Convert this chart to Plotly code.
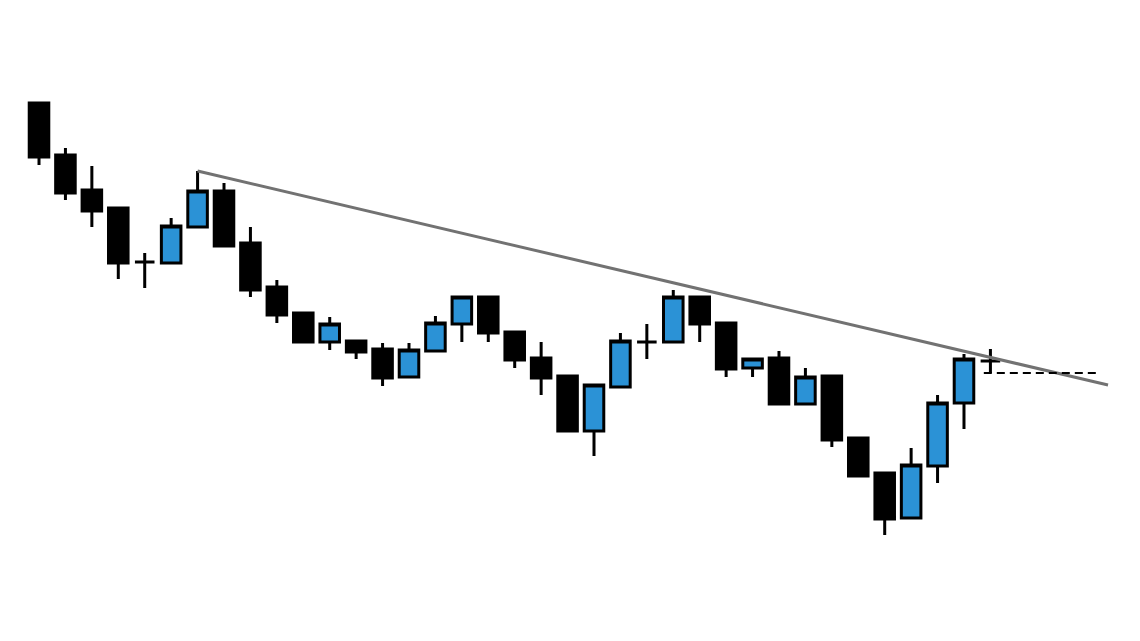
import plotly.graph_objects as go

# Price = 600 - pixel height
idx = list(range(37))
opens = [497, 445, 410, 392, 338, 337, 373, 409, 357, 313, 287, 258, 259, 251, 223, 249, 276, 303, 268, 242, 224, 169, 213, 258, 258, 303, 277, 232, 242, 196, 224, 162, 127, 82, 134, 197, 239]
closes = [443, 407, 389, 337, 338, 374, 409, 354, 310, 285, 258, 276, 248, 222, 250, 277, 303, 267, 240, 222, 169, 215, 259, 258, 303, 276, 231, 241, 196, 223, 160, 124, 81, 135, 197, 241, 239]
highs = [497, 452, 434, 392, 347, 382, 429, 417, 373, 320, 287, 283, 259, 257, 257, 284, 303, 303, 268, 258, 224, 215, 267, 276, 310, 303, 277, 241, 249, 232, 224, 162, 127, 152, 205, 246, 251]
lows = [435, 400, 373, 321, 312, 337, 373, 354, 303, 277, 258, 250, 241, 214, 223, 249, 258, 258, 232, 205, 169, 144, 213, 241, 258, 258, 223, 223, 196, 196, 153, 124, 65, 82, 117, 171, 227]

trend_x = [6, 40.45]
trend_y = [429, 215]
level_x = [35.75, 40.05]
level_y = [227, 227]

fig = go.Figure()
fig.add_trace(go.Scatter(x=trend_x, y=trend_y, mode="lines",
                         line=dict(color="#727272", width=3), hoverinfo="skip"))
fig.add_trace(go.Candlestick(
    x=idx, open=opens, high=highs, low=lows, close=closes,
    increasing=dict(line=dict(color="black", width=3), fillcolor="#2B92D6"),
    decreasing=dict(line=dict(color="black", width=3), fillcolor="black"),
    whiskerwidth=0,
))
fig.add_trace(go.Scatter(x=level_x, y=level_y, mode="lines",
                         line=dict(color="black", width=2.2, dash="8px,5px"), hoverinfo="skip"))

fig.update_layout(
    width=1140, height=641,
    margin=dict(l=0, r=0, t=0, b=0),
    paper_bgcolor="white", plot_bgcolor="white",
    showlegend=False,
    boxgap=0.26, boxgroupgap=0,
    xaxis=dict(range=[-1.476, 41.66], visible=False, rangeslider=dict(visible=False)),
    yaxis=dict(range=[-41, 600], visible=False),
)
fig.write_html("out.html", config={"displayModeBar": False},
               post_script="document.body.style.margin='0';")
